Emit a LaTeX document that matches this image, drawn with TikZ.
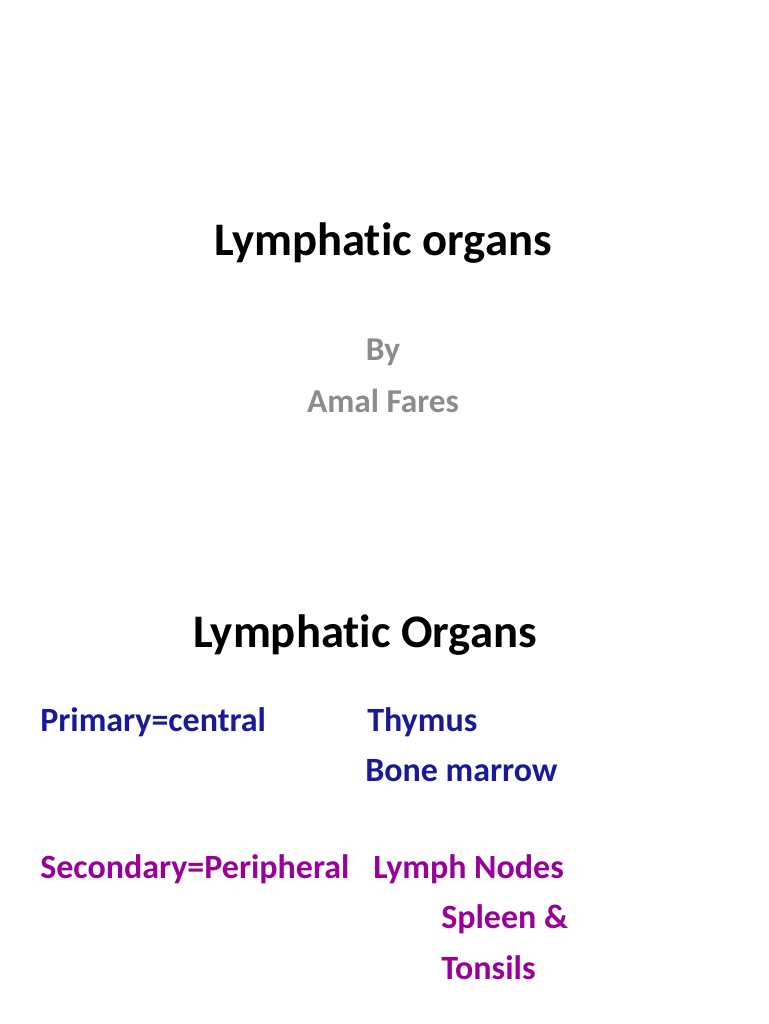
\documentclass[tikz,border=0pt]{standalone}
\usepackage{fontspec}
\setmainfont{Carlito}[Ligatures={NoCommon}]
\definecolor{dblue}{HTML}{1A1A99}
\definecolor{purp}{HTML}{990099}
\definecolor{gry}{HTML}{8C8C8C}
\begin{document}
\begin{tikzpicture}[x=0.75pt,y=-0.75pt,
  title/.style={font=\fontsize{35}{42}\selectfont\bfseries,inner sep=0pt},
  sub/.style={font=\fontsize{25}{30}\selectfont\bfseries,text=gry,inner sep=0pt},
  item/.style={font=\fontsize{25.5}{30}\selectfont\bfseries,inner sep=0pt,anchor=west}]
\useasboundingbox[fill=white] (0,0) rectangle (768,1024);
\node[title] (t1) at (383,243) {Lymphatic organs};
\node[sub] (by) at (383,352) {By};
\node[sub] (au) at (383,401) {Amal Fares};
\node[title] (t2) at (365,635) {Lymphatic Organs};
\node[item,text=dblue] (p) at (40,722) {Primary=central};
\node[item,text=dblue] (th) at (367,722) {Thymus};
\node[item,text=dblue] (bm) at (365,771) {Bone marrow};
\node[item,text=purp] (s) at (40,869) {Secondary=Peripheral};
\node[item,text=purp] (ln) at (373,869) {Lymph Nodes};
\node[item,text=purp] (sp) at (441,919) {Spleen \&};
\node[item,text=purp] (to) at (441,968) {Tonsils};
\end{tikzpicture}
\end{document}
